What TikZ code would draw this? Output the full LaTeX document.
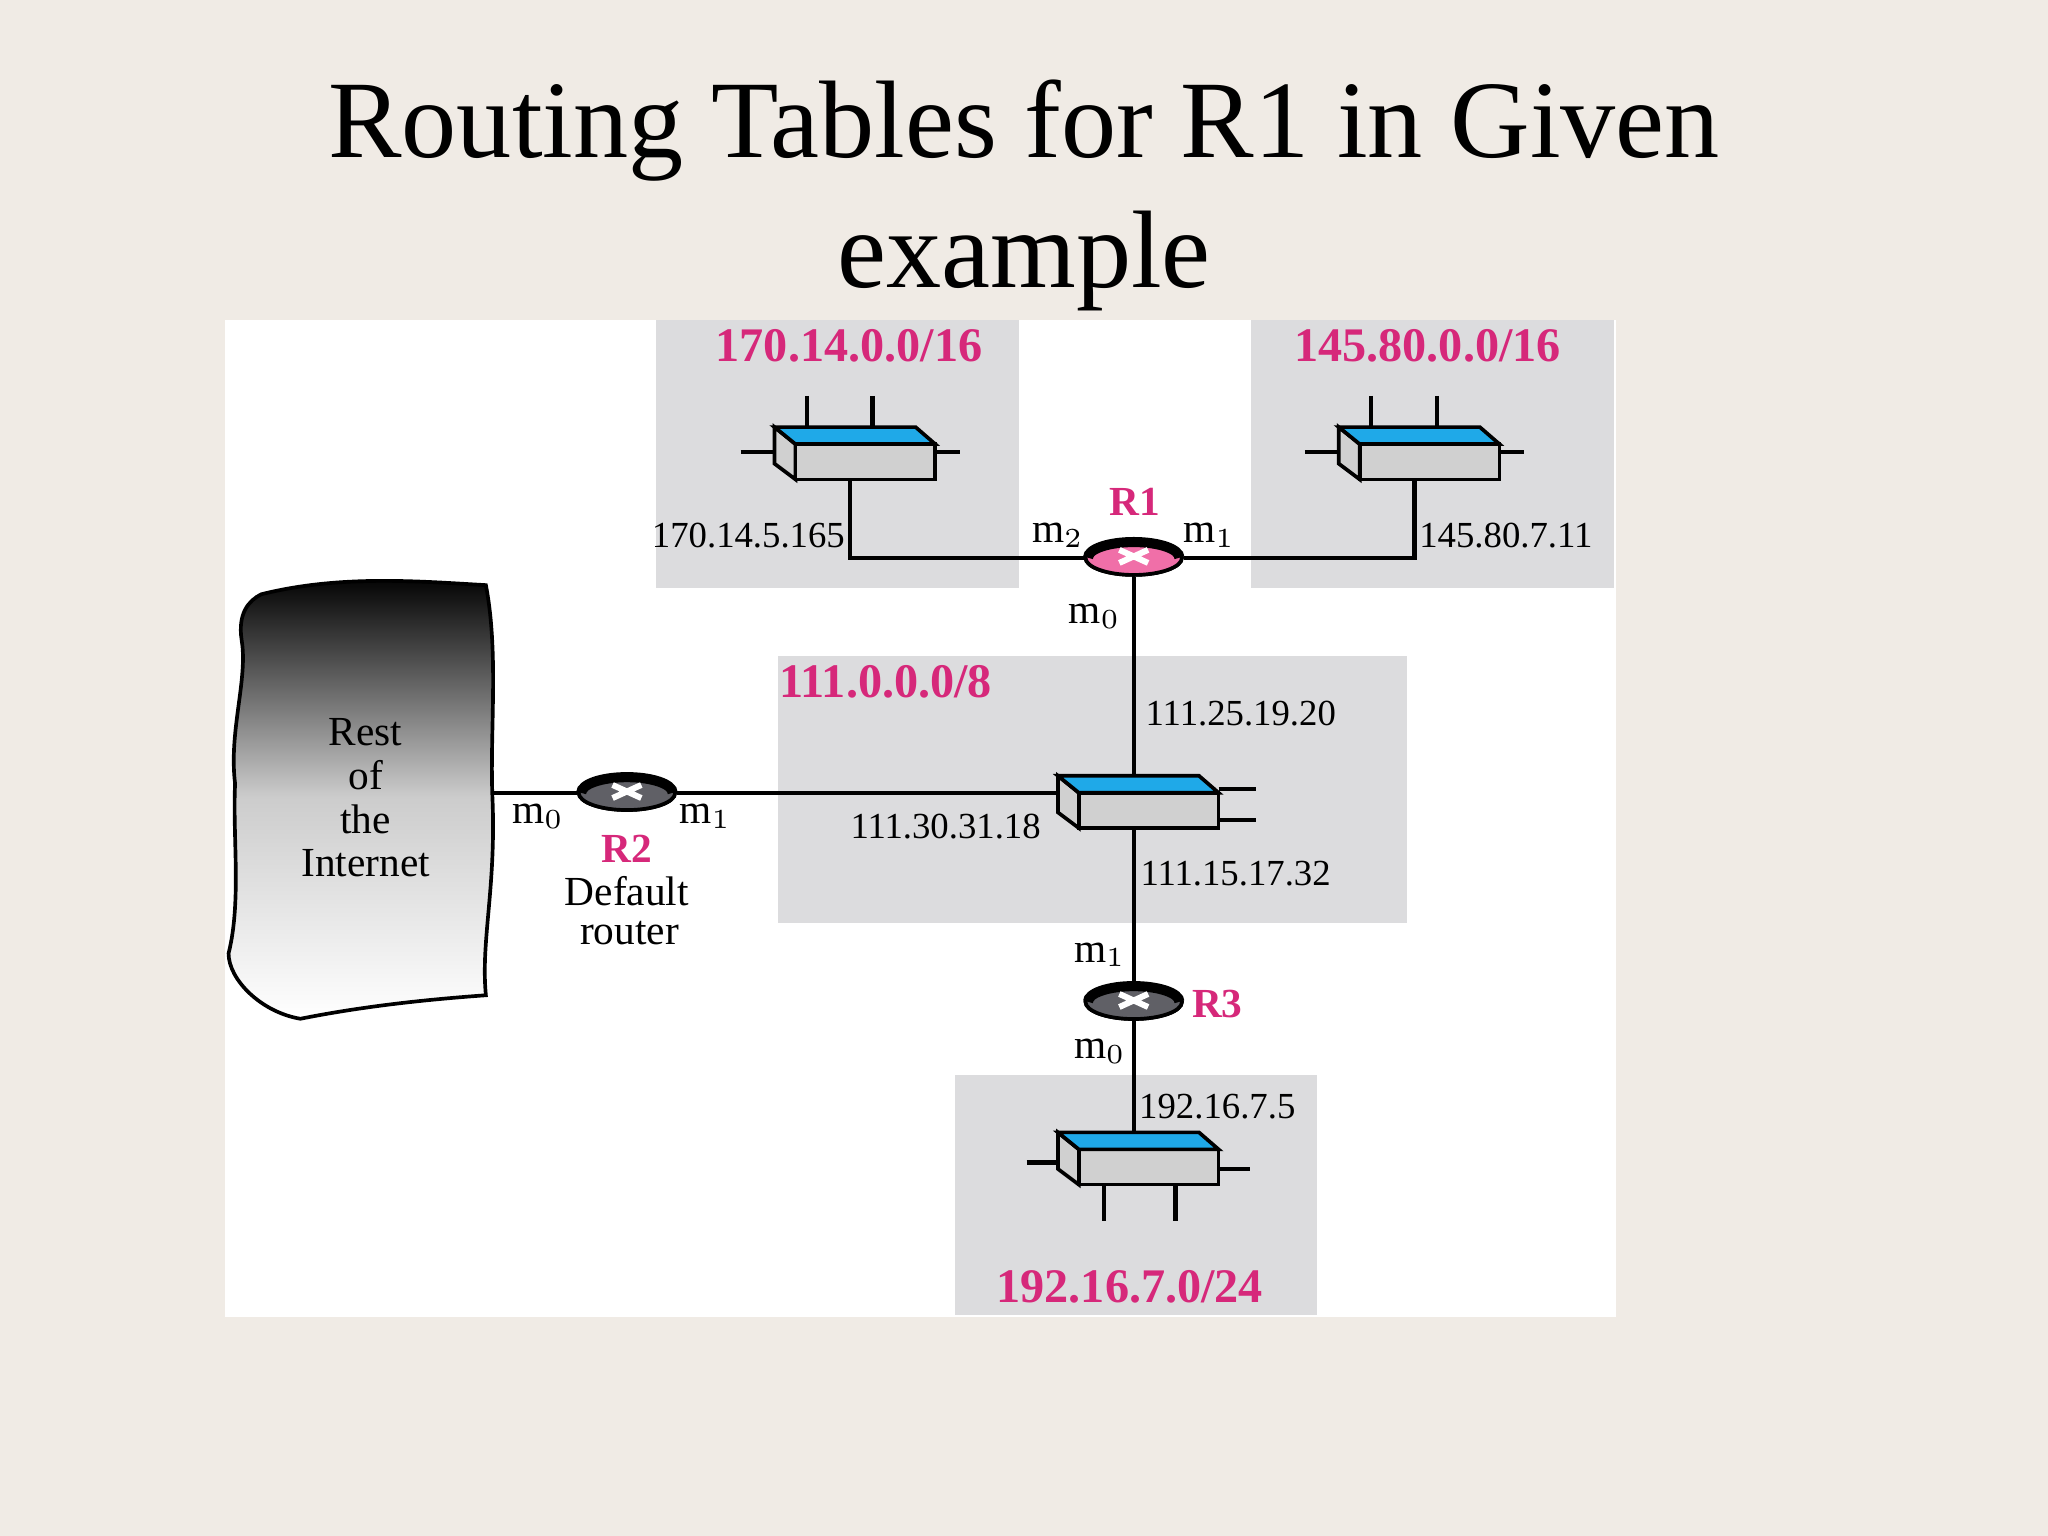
\documentclass[tikz,border=0pt]{standalone}
\usepackage{fontspec}
\setmainfont{Liberation Serif}
\usetikzlibrary{shapes.geometric}
\begin{document}
\begin{tikzpicture}[x=0.01cm,y=-0.01cm,
  lbl/.style={font=\fontsize{8}{9}\selectfont,inner sep=1pt},
  plbl/.style={font=\fontsize{9}{10}\selectfont,inner sep=1pt},
  net/.style={font=\fontsize{10.5}{12}\selectfont\bfseries,text=pink1,inner sep=0pt},
  rlbl/.style={font=\fontsize{9}{10}\selectfont\bfseries,text=pink1,inner sep=0pt},
  gbox/.style={fill=boxgray,draw=none},
  wire/.style={line width=0.9pt},
  router/.style={ellipse,minimum width=21pt,minimum height=7.5pt,draw=black,line width=0.8pt,inner sep=0pt}]
\definecolor{bg}{HTML}{F0EBE5}
\definecolor{boxgray}{HTML}{DCDCDE}
\definecolor{pink1}{HTML}{D6287A}
\definecolor{swblue}{HTML}{1FA9E8}
\definecolor{swgray}{HTML}{D0D0D0}
\definecolor{rpink}{HTML}{F06FA8}
\definecolor{rgray}{HTML}{606066}
\useasboundingbox (0,0) rectangle (1568,1176);
\fill[bg] (0,0) rectangle (1568,1176);
\fill[white] (172,245) rectangle (1237,1008);
\fill[gbox] (502,245) rectangle (780,450);
\fill[gbox] (958,245) rectangle (1236,450);
\fill[gbox] (596,502) rectangle (1077,707);
\fill[gbox] (731,823) rectangle (1008,1007);
% title
\node[font=\fontsize{24}{28}\selectfont] (t1) at (784,100) {Routing Tables for R1 in Given};
\node[font=\fontsize{24}{28}\selectfont] (t2) at (784,200) {example};
% network labels
\node[net] (n1) at (650,265) {170.14.0.0/16};
\node[net] (n2) at (1093,265) {145.80.0.0/16};
\node[net] (n3) at (678,522) {111.0.0.0/8};
\node[net] (n4) at (865,985) {192.16.7.0/24};
% switch macro
\newcommand{\myswitch}[3]{%
 \begin{scope}[shift={(#1,#2)}]
  \filldraw[fill=swgray,line width=0.8pt] (-58,-18)--(-42,-5)--(-42,22)--(-58,10)--cycle;
  \filldraw[fill=swgray,line width=0.8pt] (-42,-5) rectangle (65,22);
  \filldraw[fill=swblue,line width=0.8pt] (-58,-18)--(50,-18)--(65,-5)--(-42,-5)--cycle;
  \coordinate (#3) at (0,0);
  \coordinate (#3-t) at (0,-18);
  \coordinate (#3-b) at (0,22);
 \end{scope}}
\myswitch{651}{345}{s1}
\draw[wire] (618,303)--(618,327) (668,303)--(668,327) (567,346)--(593,346) (716,346)--(735,346);
\myswitch{1083}{345}{s2}
\draw[wire] (1050,303)--(1050,327) (1100,303)--(1100,327) (999,346)--(1025,346) (1148,346)--(1167,346);
\myswitch{868}{612}{s3}
\draw[wire] (933,604)--(962,604) (933,628)--(962,628);
\myswitch{868}{885}{s4}
\draw[wire] (786,890)--(810,890) (933,895)--(957,895) (845,907)--(845,935) (900,907)--(900,935);
% routers
\newcommand{\myrouter}[4]{%
 \node[router,fill=#4] (#1) at (#2,#3) {};
 \begin{scope}[shift={(#2,#3)}]
 \draw[black,line width=2.2pt] (-35,0) arc[start angle=180,end angle=360,x radius=35,y radius=12];
 \draw[white,line width=1.3pt] (-11,-6)--(11,4) (-11,4)--(11,-6);
 \end{scope}}
\node[router] (R1) at (868,427) {};
\node[router] (R2) at (480,607) {};
\node[router] (R3) at (868,767) {};
% cloud
\shade[top color=black,bottom color=white,middle color=gray!40,draw=black,line width=0.8pt]
 (200,455) .. controls (260,440) and (320,445) .. (372,448)
 .. controls (382,500) and (375,560) .. (377,610)
 .. controls (380,680) and (368,720) .. (372,762)
 .. controls (330,765) and (280,770) .. (230,780)
 .. controls (200,775) and (175,750) .. (175,730)
 .. controls (185,690) and (178,640) .. (180,600)
 .. controls (175,560) and (190,520) .. (185,490)
 .. controls (182,470) and (190,460) .. (200,455) -- cycle;
\node[align=center,font=\fontsize{9}{9.5}\selectfont] (rest) at (280,611) {Rest\\of\\the\\Internet};
\coordinate (cl) at (377,607);
\coordinate (sl) at (810,607);
% wires
\coordinate (c1) at (651,427);
\coordinate (c2) at (1083,427);
\draw[wire] (s1-b) -- (c1) -- (R1);
\draw[wire] (R1) -- (c2) -- (s2-b);
\draw[wire] (R1) -- (s3-t);
\draw[wire] (s3-b) -- (R3);
\draw[wire] (R3) -- (s4-t);
\draw[wire] (cl) -- (R2);
\draw[wire] (R2) -- (sl);
\myrouter{R1}{868}{427}{rpink}
\myrouter{R2}{480}{607}{rgray}
\myrouter{R3}{868}{767}{rgray}
% labels
\node[rlbl] (lr1) at (869,384) {R1};
\node[rlbl] (lr2) at (480,650) {R2};
\node[rlbl] (lr3) at (932,769) {R3};
\node[plbl] (def) at (480,682) {Default};
\node[plbl] (rou) at (482,714) {router};
\node[lbl] (a1) at (573,410) {170.14.5.165};
\node[lbl] (a2) at (1153,410) {145.80.7.11};
\node[lbl] (a3) at (950,546) {111.25.19.20};
\node[lbl] (a4) at (724,633) {111.30.31.18};
\node[lbl] (a5) at (946,669) {111.15.17.32};
\node[lbl] (a6) at (932,847) {192.16.7.5};
\node[plbl] (p1) at (810,410) {m$_2$};
\node[plbl] (p2) at (926,410) {m$_1$};
\node[plbl] (p3) at (838,472) {m$_0$};
\node[plbl] (p4) at (412,625) {m$_0$};
\node[plbl] (p5) at (540,625) {m$_1$};
\node[plbl] (p6) at (842,731) {m$_1$};
\node[plbl] (p7) at (842,805) {m$_0$};
\end{tikzpicture}
\end{document}
